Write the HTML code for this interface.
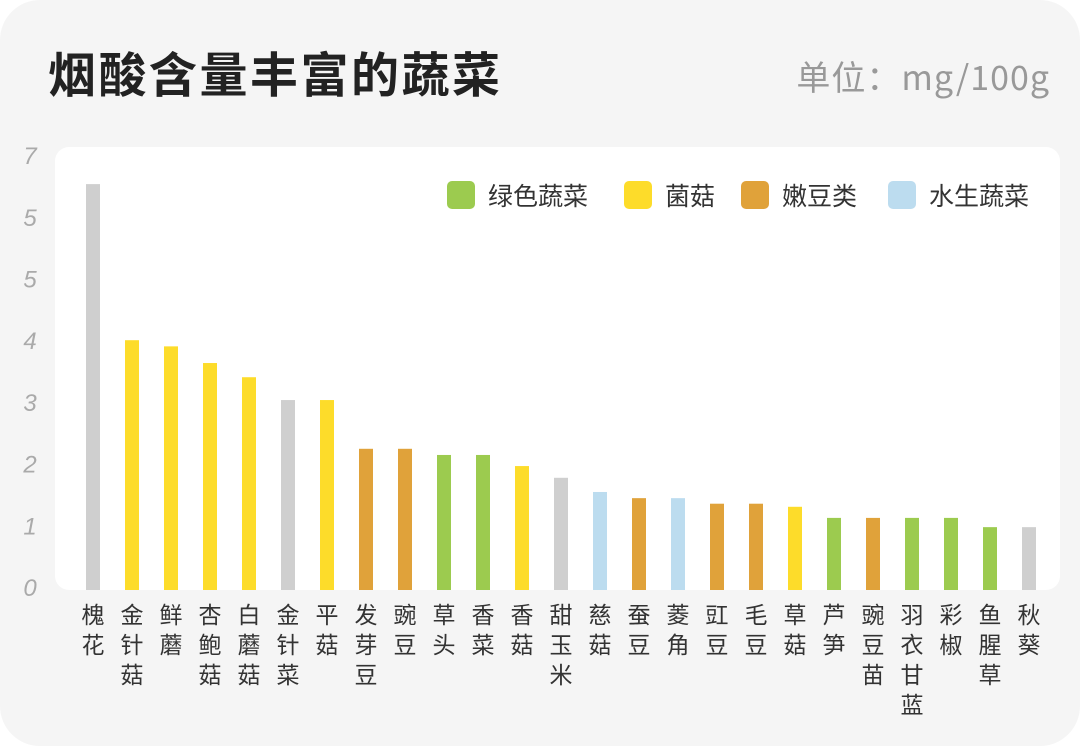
<!DOCTYPE html>
<html><head><meta charset="utf-8">
<style>
html,body{margin:0;padding:0;width:1080px;height:746px;background:#fff;overflow:hidden}
body{font-family:"Liberation Sans","Noto Sans CJK SC",sans-serif}
#card{position:absolute;left:0;top:0;width:1080px;height:746px;background:#f5f5f5;border-radius:40px}
</style></head>
<body>
<div id="card"></div>
<svg id="chart" width="1080" height="746" style="position:absolute;left:0;top:0">
<text x="48" y="92" font-size="48" letter-spacing="2.5" font-weight="bold" fill="#222" font-family="'Noto Sans CJK SC',sans-serif">烟酸含量丰富的蔬菜</text>
<text x="1050" y="90" font-size="34" letter-spacing="1" fill="#999" text-anchor="end" font-family="'Noto Sans CJK SC',sans-serif">单位：mg/100g</text>
<rect x="55" y="147" width="1005" height="443" rx="14" fill="#fff"/>
<g id="yaxis"></g><g id="bars"></g><g id="xlabels"></g>
<g id="legend"></g>
</svg>
<script>
const categories=["槐花","金针菇","鲜蘑","杏鲍菇","白蘑菇","金针菜","平菇","发芽豆","豌豆","草头","香菜","香菇","甜玉米","慈菇","蚕豆","菱角","豇豆","毛豆","草菇","芦笋","豌豆苗","羽衣甘蓝","彩椒","鱼腥草","秋葵"];
const values=[6.53,4.0,3.9,3.63,3.4,3.03,3.03,2.24,2.24,2.14,2.14,1.96,1.77,1.54,1.44,1.44,1.35,1.35,1.3,1.12,1.12,1.12,1.12,0.97,0.97];
const groups=["other","fungi","fungi","fungi","fungi","other","fungi","bean","bean","green","green","fungi","other","water","bean","water","bean","bean","fungi","green","bean","green","green","green","other"];
const tickValues=[0,1,2,3,4,5,6,7];
const tickLabels=["0","1","2","3","4","5","5","7"];
const legendNames=["绿色蔬菜","菌菇","嫩豆类","水生蔬菜"];
const legendKeys=["green","fungi","bean","water"];
const colors={other:"#cfcfcf",fungi:"#fddc2a",bean:"#e0a23a",green:"#9ccb4f",water:"#bcdcef"};
const NS="http://www.w3.org/2000/svg";
const y0=587,unit=61.7;
const yScale=v=>y0-v*unit;
const xScale=i=>93+i*39;
function mk(tag,attrs,parent,txt){const e=document.createElementNS(NS,tag);for(const k in attrs)e.setAttribute(k,attrs[k]);if(txt!==undefined)e.textContent=txt;parent.appendChild(e);return e;}
const ya=document.getElementById('yaxis');
tickValues.forEach((v,i)=>{
  const t=mk('text',{x:30,y:yScale(v)+9,'font-size':24,fill:'#aaa','text-anchor':'middle','font-style':'italic'},ya,tickLabels[i]);
  
  
});
const bg=document.getElementById('bars'),xl=document.getElementById('xlabels');
categories.forEach((c,i)=>{
  const x=xScale(i),y=yScale(values[i]);
  const r=mk('rect',{x:x-7,y:y,width:14,height:y0+3-y,fill:colors[groups[i]]},bg);
  
  
  const g=mk('text',{x:x,'font-size':23,fill:'#333','text-anchor':'middle','font-family':"'Noto Sans CJK SC',sans-serif"},xl);
  
  
  [...c].forEach((ch,j)=>mk('tspan',{x:x,y:623+j*30},g,ch));
});
const lg=document.getElementById('legend');
const lx=[447,624,741,888];
legendNames.forEach((n,i)=>{
  const r=mk('rect',{x:lx[i],y:181,width:28,height:28,rx:5,fill:colors[legendKeys[i]]},lg);
  
  
  const t=mk('text',{x:lx[i]+41,y:205,'font-size':25,fill:'#333','font-family':"'Noto Sans CJK SC',sans-serif"},lg,n);
  
  
});
</script>
</body></html>
